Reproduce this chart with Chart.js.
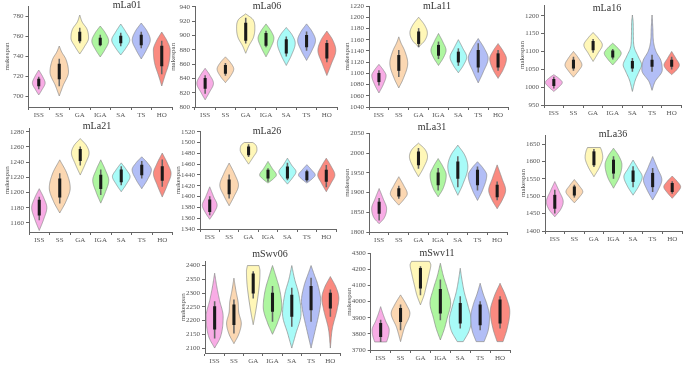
<!DOCTYPE html>
<html>
<head>
<meta charset="utf-8">
<script src="https://cdn.jsdelivr.net/npm/chart.js@4.4.1/dist/chart.umd.min.js"></script>
<style>
  body { margin: 0; background: #fff; }
  #wrap { position: relative; width: 685px; height: 365px; overflow: hidden; }
  canvas { position: absolute; }
</style>
</head>
<body>
<div id="wrap"></div>
<script>
const categories = ['ISS', 'SS', 'GA', 'IGA', 'SA', 'TS', 'HO'];
const colors = ['#f8ace5', '#fbd7b2', '#fff7b8', '#aef6a0', '#a8fbf8', '#b2bef6', '#fa8a80'];

// violin outlines: [makespan, half width as share of a category slot]
// boxes: [whisker low, q1, median, q3, whisker high]
const mLa01Violins = [
  [[701,0],[706,0.15],[713,0.31],[719,0.2],[726,0]],
  [[700,0],[710,0.18],[724,0.45],[737,0.32],[744,0.12],[750,0]],
  [[742,0],[749,0.22],[758,0.43],[767,0.35],[774,0.12],[781,0]],
  [[739,0],[746,0.22],[755,0.41],[763,0.25],[770,0]],
  [[741,0],[748,0.25],[756,0.44],[764,0.25],[772,0]],
  [[737,0],[746,0.25],[756,0.44],[765,0.28],[773,0]],
  [[710,0],[720,0.15],[733,0.35],[746,0.41],[755,0.26],[764,0]]
];
const mLa01Boxes = [[707,710,712,717,719],[710,717,724,732,737],[753,755,760,764,768],[750,751,754,758,761],[750,753,756,760,763],[748,751,756,761,764],[722,730,737,750,755]];
const mLa01Ticks = [700, 720, 740, 760, 780];

const mLa06Violins = [
  [[810,0],[820,0.2],[833,0.41],[845,0.22],[854,0]],
  [[834,0],[843,0.25],[853,0.41],[862,0.25],[870,0]],
  [[875,0],[885,0.15],[897,0.38],[910,0.45],[922,0.36],[930,0]],
  [[870,0],[882,0.22],[896,0.39],[906,0.25],[916,0]],
  [[858,0],[872,0.25],[889,0.44],[901,0.28],[911,0]],
  [[865,0],[878,0.25],[893,0.44],[905,0.28],[916,0]],
  [[844,0],[860,0.22],[879,0.44],[894,0.28],[906,0]]
];
const mLa06Boxes = [[819,826,834,840,844],[844,847,852,858,861],[889,893,905,917,924],[884,886,895,903,906],[871,875,884,894,898],[879,884,893,900,905],[863,868,878,889,893]];
const mLa06Ticks = [800, 820, 840, 860, 880, 900, 920, 940];

const mLa11Violins = [
  [[1065,0],[1080,0.22],[1096,0.36],[1106,0.22],[1116,0]],
  [[1074,0],[1090,0.22],[1118,0.45],[1140,0.3],[1155,0.1],[1165,0]],
  [[1147,0],[1158,0.3],[1172,0.44],[1186,0.3],[1200,0]],
  [[1114,0],[1128,0.25],[1141,0.38],[1156,0.22],[1171,0]],
  [[1101,0],[1114,0.25],[1129,0.42],[1145,0.22],[1160,0]],
  [[1083,0],[1102,0.25],[1127,0.5],[1145,0.3],[1162,0]],
  [[1091,0],[1106,0.25],[1126,0.42],[1140,0.25],[1153,0]]
];
const mLa11Boxes = [[1079,1085,1092,1100,1105],[1094,1105,1115,1132,1141],[1147,1153,1165,1174,1180],[1126,1132,1140,1150,1156],[1114,1120,1127,1138,1144],[1102,1111,1124,1141,1153],[1105,1111,1122,1135,1141]];
const mLa11Ticks = [1040, 1060, 1080, 1100, 1120, 1140, 1160, 1180, 1200, 1220];

const mLa16Violins = [
  [[988,0],[1000,0.25],[1013,0.43],[1025,0.25],[1035,0]],
  [[1028,0],[1045,0.25],[1062,0.43],[1082,0.25],[1100,0]],
  [[1072,0],[1095,0.25],[1118,0.47],[1138,0.25],[1153,0]],
  [[1062,0],[1078,0.25],[1095,0.43],[1110,0.25],[1123,0]],
  [[988,0],[1020,0.15],[1045,0.35],[1062,0.47],[1085,0.3],[1110,0.1],[1140,0.05],[1180,0.04],[1202,0]],
  [[991,0],[1015,0.15],[1048,0.52],[1075,0.45],[1100,0.2],[1125,0.08],[1165,0.04],[1202,0]],
  [[1035,0],[1048,0.25],[1062,0.39],[1080,0.22],[1100,0]]
];
const mLa16Boxes = [[997,1004,1012,1022,1028],[1047,1053,1063,1076,1084],[1097,1104,1115,1128,1134],[1078,1084,1090,1102,1106],[1044,1053,1062,1072,1081],[1044,1058,1067,1076,1090],[1050,1058,1062,1076,1084]];
const mLa16Ticks = [950, 1000, 1050, 1100, 1150, 1200];

const mLa21Violins = [
  [[1150,0],[1165,0.22],[1180,0.37],[1193,0.22],[1205,0]],
  [[1173,0],[1188,0.3],[1206,0.51],[1225,0.35],[1243,0]],
  [[1223,0],[1238,0.25],[1252,0.43],[1262,0.3],[1271,0]],
  [[1186,0],[1200,0.22],[1216,0.39],[1230,0.22],[1243,0]],
  [[1201,0],[1211,0.25],[1221,0.43],[1230,0.25],[1239,0]],
  [[1205,0],[1217,0.28],[1230,0.47],[1239,0.28],[1247,0]],
  [[1194,0],[1210,0.25],[1225,0.43],[1238,0.26],[1252,0]]
];
const mLa21Boxes = [[1164,1170,1180,1190,1194],[1186,1194,1205,1218,1225],[1236,1242,1248,1257,1260],[1197,1205,1214,1223,1230],[1210,1214,1222,1230,1234],[1219,1223,1230,1236,1241],[1208,1216,1224,1234,1243]];
const mLa21Ticks = [1160, 1180, 1200, 1220, 1240, 1260, 1280];

const mLa26Violins = [
  [[1358,0],[1370,0.22],[1384,0.38],[1400,0.2],[1418,0]],
  [[1383,0],[1400,0.25],[1421,0.48],[1442,0.28],[1462,0]],
  [[1460,0],[1472,0.22],[1486,0.43],[1496,0.36],[1500,0.22]],
  [[1425,0],[1432,0.25],[1440,0.43],[1452,0.22],[1465,0]],
  [[1423,0],[1434,0.25],[1446,0.44],[1458,0.22],[1471,0]],
  [[1425,0],[1432,0.25],[1440,0.43],[1449,0.25],[1459,0]],
  [[1409,0],[1425,0.25],[1440,0.44],[1456,0.25],[1471,0]]
];
const mLa26Boxes = [[1366,1372,1385,1394,1400],[1397,1405,1418,1431,1440],[1474,1477,1485,1492,1496],[1428,1434,1441,1449,1452],[1431,1434,1444,1455,1462],[1428,1431,1440,1446,1449],[1418,1428,1438,1449,1458]];
const mLa26Ticks = [1340, 1360, 1380, 1400, 1420, 1440, 1460, 1480, 1500, 1520];

const mLa31Violins = [
  [[1821,0],[1835,0.25],[1859,0.38],[1885,0.2],[1910,0]],
  [[1868,0],[1882,0.25],[1897,0.43],[1918,0.25],[1940,0]],
  [[1940,0],[1962,0.25],[1991,0.46],[2010,0.32],[2025,0]],
  [[1889,0],[1910,0.25],[1944,0.41],[1965,0.25],[1986,0]],
  [[1893,0],[1920,0.25],[1965,0.51],[1995,0.35],[2020,0]],
  [[1880,0],[1905,0.25],[1944,0.47],[1962,0.28],[1978,0]],
  [[1859,0],[1880,0.25],[1906,0.43],[1935,0.25],[1970,0]]
];
const mLa31Boxes = [[1830,1847,1855,1876,1885],[1885,1891,1900,1910,1916],[1961,1970,1985,2003,2012],[1906,1919,1933,1950,1961],[1914,1936,1950,1978,1991],[1906,1919,1933,1957,1965],[1881,1889,1900,1919,1927]];
const mLa31Ticks = [1800, 1850, 1900, 1950, 2000, 2050];

const mLa36Violins = [
  [[1441,0],[1462,0.3],[1484,0.43],[1515,0.22],[1542,0]],
  [[1481,0],[1497,0.25],[1513,0.43],[1530,0.25],[1548,0]],
  [[1556,0],[1585,0.3],[1612,0.45],[1630,0.4],[1640,0.33]],
  [[1523,0],[1555,0.3],[1590,0.43],[1615,0.28],[1638,0]],
  [[1503,0],[1530,0.3],[1556,0.47],[1580,0.25],[1604,0]],
  [[1489,0],[1520,0.3],[1547,0.47],[1580,0.25],[1614,0]],
  [[1494,0],[1510,0.25],[1527,0.43],[1543,0.25],[1558,0]]
];
const mLa36Boxes = [[1451,1465,1480,1503,1518],[1497,1503,1515,1527,1532],[1585,1590,1610,1628,1635],[1551,1566,1585,1604,1614],[1527,1542,1556,1573,1585],[1513,1527,1546,1566,1580],[1508,1513,1525,1537,1542]];
const mLa36Ticks = [1400, 1450, 1500, 1550, 1600, 1650];

const mSwv06Violins = [
  [[2100,0],[2140,0.3],[2215,0.44],[2275,0.25],[2320,0.12],[2372,0]],
  [[2116,0],[2150,0.25],[2190,0.38],[2230,0.25],[2265,0.22],[2310,0.1],[2354,0]],
  [[2185,0],[2230,0.12],[2290,0.25],[2340,0.33],[2380,0.35],[2400,0.3]],
  [[2150,0],[2190,0.25],[2250,0.48],[2310,0.38],[2360,0.18],[2400,0]],
  [[2100,0],[2150,0.2],[2225,0.48],[2300,0.35],[2350,0.15],[2400,0]],
  [[2100,0],[2160,0.2],[2240,0.45],[2270,0.5],[2330,0.35],[2370,0.15],[2400,0]],
  [[2100,0],[2170,0.1],[2240,0.35],[2281,0.44],[2320,0.3],[2360,0]]
];
const mSwv06Boxes = [[2136,2169,2210,2251,2269],[2154,2185,2220,2257,2275],[2281,2300,2330,2370,2378],[2197,2233,2260,2300,2324],[2179,2215,2255,2293,2318],[2197,2239,2265,2324,2354],[2215,2245,2275,2300,2312]];
const mSwv06Ticks = [2100, 2150, 2200, 2250, 2300, 2350, 2400];

const mSwv11Violins = [
  [[3750,0.3],[3790,0.4],[3824,0.43],[3880,0.25],[3930,0.1],[3969,0]],
  [[3752,0],[3840,0.2],[3928,0.47],[3980,0.3],[4042,0]],
  [[3980,0],[4040,0.18],[4100,0.3],[4180,0.45],[4228,0.52],[4250,0.45]],
  [[3762,0],[3830,0.2],[3900,0.35],[3990,0.52],[4080,0.35],[4160,0.15],[4238,0]],
  [[3752,0.15],[3820,0.45],[3886,0.55],[3970,0.4],[4060,0.2],[4140,0.08],[4207,0]],
  [[3752,0.2],[3820,0.4],[3907,0.47],[3980,0.35],[4050,0.15],[4114,0]],
  [[3752,0.15],[3830,0.35],[3938,0.49],[4030,0.3],[4114,0]]
];
const mSwv11Boxes = [[3752,3783,3820,3866,3886],[3824,3876,3910,3959,3980],[4042,4083,4130,4207,4218],[3886,3928,4000,4077,4135],[3835,3866,3935,3990,4031],[3824,3855,3910,3980,4000],[3835,3866,3930,4011,4031]];
const mSwv11Ticks = [3700, 3800, 3900, 4000, 4100, 4200, 4300];

// rect = plot area on the page [left, right, top, bottom], title = [x, y]
const panels = [
  { name: 'mLa01', violins: mLa01Violins, boxes: mLa01Boxes, ticks: mLa01Ticks, range: [689, 790], rect: [28.5, 172, 6, 107], title: [127, 5] },
  { name: 'mLa06', violins: mLa06Violins, boxes: mLa06Boxes, ticks: mLa06Ticks, range: [800, 940], rect: [195, 337, 6.7, 106.7], title: [267, 6] },
  { name: 'mLa11', violins: mLa11Violins, boxes: mLa11Boxes, ticks: mLa11Ticks, range: [1040, 1220], rect: [369, 508, 6, 106.7], title: [437, 6] },
  { name: 'mLa16', violins: mLa16Violins, boxes: mLa16Boxes, ticks: mLa16Ticks, range: [950, 1230], rect: [544, 681.5, 5, 105.3], title: [607, 8] },
  { name: 'mLa21', violins: mLa21Violins, boxes: mLa21Boxes, ticks: mLa21Ticks, range: [1148, 1284], rect: [29, 172.5, 128.7, 231.8], title: [97, 126] },
  { name: 'mLa26', violins: mLa26Violins, boxes: mLa26Boxes, ticks: mLa26Ticks, range: [1340, 1520], rect: [200, 336, 131.7, 229], title: [267, 131] },
  { name: 'mLa31', violins: mLa31Violins, boxes: mLa31Boxes, ticks: mLa31Ticks, range: [1800, 2050], rect: [369.3, 507, 133.3, 231.7], title: [432, 127] },
  { name: 'mLa36', violins: mLa36Violins, boxes: mLa36Boxes, ticks: mLa36Ticks, range: [1400, 1676], rect: [545, 682, 135, 231], title: [613, 134] },
  { name: 'mSwv06', violins: mSwv06Violins, boxes: mSwv06Boxes, ticks: mSwv06Ticks, range: [2082, 2414], rect: [205, 340, 261.7, 353.3], title: [270, 254] },
  { name: 'mSwv11', violins: mSwv11Violins, boxes: mSwv11Boxes, ticks: mSwv11Ticks, range: [3700, 4300], rect: [370.7, 510, 253.3, 350], title: [437, 253] }
];

const FONT = '"Liberation Serif", "DejaVu Serif", serif';
const AXIS_W = 30, PAD_TOP = 12, AXIS_H = 14;

// smooth width profile without overshoot (monotone cubic)
function profile(knots) {
  const xs = knots.map(k => k[0]), ys = knots.map(k => k[1]);
  const n = xs.length, d = [], m = [];
  for (let i = 0; i < n - 1; i++) d.push((ys[i + 1] - ys[i]) / (xs[i + 1] - xs[i]));
  m[0] = d[0]; m[n - 1] = d[n - 2];
  for (let i = 1; i < n - 1; i++) m[i] = d[i - 1] * d[i] <= 0 ? 0 : (d[i - 1] + d[i]) / 2;
  for (let i = 0; i < n - 1; i++) {
    if (d[i] === 0) { m[i] = 0; m[i + 1] = 0; continue; }
    const a = m[i] / d[i], b = m[i + 1] / d[i], s = a * a + b * b;
    if (s > 9) { const t = 3 / Math.sqrt(s); m[i] = t * a * d[i]; m[i + 1] = t * b * d[i]; }
  }
  return function (x) {
    let i = 0;
    while (i < n - 2 && x > xs[i + 1]) i++;
    const h = xs[i + 1] - xs[i], t = (x - xs[i]) / h;
    const t2 = t * t, t3 = t2 * t;
    return Math.max(0, (2 * t3 - 3 * t2 + 1) * ys[i] + (t3 - 2 * t2 + t) * h * m[i] +
      (-2 * t3 + 3 * t2) * ys[i + 1] + (t3 - t2) * h * m[i + 1]);
  };
}

const violinPlugin = {
  id: 'violins',
  beforeDatasetsDraw(chart) {
    const p = chart.options.plugins.violins;
    const { ctx, scales: { x, y } } = chart;
    const slot = x.width / categories.length;
    ctx.save();
    p.violins.forEach((knots, i) => {
      const f = profile(knots);
      const cx = x.getPixelForValue(i);
      const v0 = knots[0][0], v1 = knots[knots.length - 1][0];
      const steps = 60, right = [], left = [];
      for (let k = 0; k <= steps; k++) {
        const v = v0 + (v1 - v0) * k / steps;
        const py = y.getPixelForValue(v);
        const w = f(v) * slot;
        right.push([cx + w, py]);
        left.push([cx - w, py]);
      }
      ctx.beginPath();
      ctx.moveTo(left[0][0], left[0][1]);
      right.forEach(pt => ctx.lineTo(pt[0], pt[1]));
      for (let k = left.length - 1; k >= 0; k--) ctx.lineTo(left[k][0], left[k][1]);
      ctx.closePath();
      ctx.fillStyle = colors[i];
      ctx.fill();
      ctx.lineWidth = 0.7;
      ctx.strokeStyle = '#8a8a8a';
      ctx.stroke();
    });
    ctx.restore();
  },
  afterDraw(chart) {
    const p = chart.options.plugins.violins;
    const ctx = chart.ctx;
    ctx.save();
    ctx.font = '10px ' + FONT;
    ctx.fillStyle = '#333';
    ctx.textAlign = 'center';
    ctx.textBaseline = 'middle';
    ctx.fillText(p.name, p.titleX, p.titleY);
    ctx.restore();
  }
};

const wrap = document.getElementById('wrap');
panels.forEach(panel => {
  const [L, R, T, B] = panel.rect;
  const left = Math.round(L - AXIS_W), top = Math.round(T - PAD_TOP);
  const width = Math.round(R + 3 - left), height = Math.round(B + AXIS_H - top);
  const canvas = document.createElement('canvas');
  canvas.width = width; canvas.height = height;
  canvas.style.left = left + 'px'; canvas.style.top = top + 'px';
  canvas.style.width = width + 'px'; canvas.style.height = height + 'px';
  wrap.appendChild(canvas);

  const tickFont = { family: FONT, size: 7 };
  new Chart(canvas.getContext('2d'), {
    type: 'bar',
    data: {
      labels: categories,
      datasets: [
        { label: 'box', data: panel.boxes.map(b => [b[1], b[3]]), backgroundColor: '#1a1a1a', barThickness: 2.4, grouped: false, order: 0 },
        { label: 'whisker', data: panel.boxes.map(b => [b[0], b[4]]), backgroundColor: '#666', barThickness: 0.9, grouped: false, order: 1 }
      ]
    },
    options: {
      responsive: false,
      animation: false,
      devicePixelRatio: 1,
      layout: { padding: { left: (L - AXIS_W) - left, top: T - top, right: (left + width) - R, bottom: 0 } },
      plugins: {
        legend: { display: false },
        tooltip: { enabled: false },
        violins: { violins: panel.violins, name: panel.name, titleX: panel.title[0] - left, titleY: panel.title[1] - top }
      },
      scales: {
        x: {
          type: 'category',
          offset: true,
          afterFit: s => { s.height = AXIS_H; },
          grid: { display: true, drawOnChartArea: false, tickLength: 3, color: '#666' },
          border: { color: '#666', width: 1 },
          ticks: { font: tickFont, color: '#555', padding: 1, maxRotation: 0, autoSkip: false }
        },
        y: {
          min: panel.range[0],
          max: panel.range[1],
          afterBuildTicks: s => { s.ticks = panel.ticks.map(v => ({ value: v })); },
          afterFit: s => { s.width = AXIS_W; },
          grid: { display: true, drawOnChartArea: false, tickLength: 3, color: '#666' },
          border: { color: '#666', width: 1 },
          ticks: { font: tickFont, color: '#555', padding: 2, autoSkip: false, callback: v => String(v) },
          title: { display: true, text: 'makespan', font: { family: FONT, size: 7 }, color: '#555', padding: { top: 4, bottom: 0 } }
        }
      }
    },
    plugins: [violinPlugin]
  });
});
</script>
</body>
</html>
